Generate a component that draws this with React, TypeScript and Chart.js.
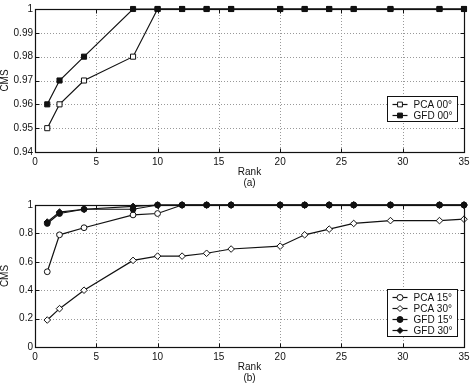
import React, { useEffect, useRef } from "react";
import { Chart, registerables } from "chart.js";

Chart.register(...registerables);

// ---------- data ----------
const ranks = [1, 2, 4, 8, 10, 12, 14, 16, 20, 22, 24, 26, 29, 33, 35];
const pca00 = [0.95, 0.96, 0.97, 0.98, 1, 1, 1, 1, 1, 1, 1, 1, 1, 1, 1];
const gfd00 = [0.96, 0.97, 0.98, 1, 1, 1, 1, 1, 1, 1, 1, 1, 1, 1, 1];
const pca15 = [0.53, 0.79, 0.84, 0.93, 0.94, 1, 1, 1, 1, 1, 1, 1, 1, 1, 1];
const pca30 = [0.19, 0.27, 0.4, 0.61, 0.64, 0.64, 0.66, 0.69, 0.71, 0.79, 0.83, 0.87, 0.89, 0.89, 0.9];
const gfd15 = [0.87, 0.94, 0.97, 0.97, 1, 1, 1, 1, 1, 1, 1, 1, 1, 1, 1];
const gfd30 = [0.88, 0.95, 0.97, 0.99, 1, 1, 1, 1, 1, 1, 1, 1, 1, 1, 1];
const xTickValues = [0, 5, 10, 15, 20, 25, 30, 35];
const yTicksA = [0.94, 0.95, 0.96, 0.97, 0.98, 0.99, 1];
const yTicksB = [0, 0.2, 0.4, 0.6, 0.8, 1];
const labelsA = ["PCA 00°", "GFD 00°"];
const labelsB = ["PCA 15°", "PCA 30°", "GFD 15°", "GFD 30°"];

const FONT = "'Liberation Sans', Arial, Helvetica, sans-serif";
const INK = "#111";

type Marker = "rect" | "circle" | "rectRot";

function drawMarker(ctx: CanvasRenderingContext2D, m: Marker, x: number, y: number, r: number, fill: string) {
  ctx.save();
  ctx.beginPath();
  if (m === "rect") {
    const s = r * Math.SQRT1_2 + 0.3;
    ctx.rect(x - s, y - s, 2 * s, 2 * s);
  } else if (m === "circle") {
    ctx.arc(x, y, r, 0, Math.PI * 2);
  } else {
    ctx.moveTo(x - r, y);
    ctx.lineTo(x, y - r);
    ctx.lineTo(x + r, y);
    ctx.lineTo(x, y + r);
    ctx.closePath();
  }
  ctx.fillStyle = fill;
  ctx.fill();
  ctx.lineWidth = 1;
  ctx.strokeStyle = INK;
  ctx.setLineDash([]);
  ctx.stroke();
  ctx.restore();
}

const framePlugin = {
  id: "matlabFrame",
  beforeDatasetsDraw(chart: any) {
    const { ctx, chartArea, scales } = chart;
    const { left, right, top, bottom } = chartArea;
    ctx.save();
    ctx.strokeStyle = "#999";
    ctx.lineWidth = 1;
    ctx.setLineDash([1, 2]);
    scales.x.ticks.forEach((t: any) => {
      const px = Math.round(scales.x.getPixelForValue(t.value)) + 0.5;
      if (px <= left + 1 || px >= right - 1) return;
      ctx.beginPath();
      ctx.moveTo(px, top);
      ctx.lineTo(px, bottom);
      ctx.stroke();
    });
    scales.y.ticks.forEach((t: any) => {
      const py = Math.round(scales.y.getPixelForValue(t.value)) + 0.5;
      if (py <= top + 1 || py >= bottom - 1) return;
      ctx.beginPath();
      ctx.moveTo(left, py);
      ctx.lineTo(right, py);
      ctx.stroke();
    });
    ctx.restore();
  },
  afterDatasetsDraw(chart: any, _args: any, opts: any) {
    const { ctx, chartArea, scales } = chart;
    const { left, right, top, bottom } = chartArea;
    ctx.save();
    ctx.setLineDash([]);
    ctx.strokeStyle = INK;
    ctx.lineWidth = 1.2;
    const L = Math.round(left) + 0.5, R = Math.round(right) + 0.5;
    const T = Math.round(top) + 0.5, B = Math.round(bottom) + 0.5;
    ctx.strokeRect(L, T, R - L, B - T);
    ctx.lineWidth = 1;
    const tl = 4;
    ctx.beginPath();
    scales.x.ticks.forEach((t: any) => {
      const px = Math.round(scales.x.getPixelForValue(t.value)) + 0.5;
      ctx.moveTo(px, B);
      ctx.lineTo(px, B - tl);
      ctx.moveTo(px, T);
      ctx.lineTo(px, T + tl);
    });
    scales.y.ticks.forEach((t: any) => {
      const py = Math.round(scales.y.getPixelForValue(t.value)) + 0.5;
      ctx.moveTo(L, py);
      ctx.lineTo(L + tl, py);
      ctx.moveTo(R, py);
      ctx.lineTo(R - tl, py);
    });
    ctx.stroke();

    // legend box
    const items = opts.items as { label: string; marker: Marker; fill: string }[];
    const w = 70;
    const h = 7.5 + (items.length - 1) * 11 + 6.5;
    const bx = Math.round(right - 7 - w) + 0.5;
    const by = Math.round(bottom - opts.bottomOffset - h) + 0.5;
    ctx.fillStyle = "#fff";
    ctx.fillRect(bx, by, w, h);
    ctx.strokeRect(bx, by, w, h);
    ctx.font = `10px ${FONT}`;
    ctx.textBaseline = "middle";
    ctx.textAlign = "left";
    items.forEach((it, i) => {
      const cy = Math.round(by + 7.5 + i * 11) + 0.5;
      ctx.beginPath();
      ctx.moveTo(bx + 5, cy);
      ctx.lineTo(bx + 20, cy);
      ctx.strokeStyle = INK;
      ctx.lineWidth = 1.2;
      ctx.stroke();
      drawMarker(ctx, it.marker, bx + 12.5, cy, 3, it.fill);
      ctx.fillStyle = INK;
      ctx.fillText(it.label, bx + 26, cy + 0.5);
    });
    ctx.restore();
  },
};

function fmt(v: number) {
  return String(Number(v.toFixed(2)));
}

type PanelProps = {
  series: { values: number[]; marker: Marker; fill: string; label: string; order: number }[];
  yMin: number;
  yMax: number;
  yTicks: number[];
  caption: string;
  padTop: number;
  xAxisHeight: number;
  titlePadBottom: number;
  legendOffset: number;
  legendOrder: string[];
};

function Panel(p: PanelProps) {
  const ref = useRef<HTMLCanvasElement | null>(null);
  useEffect(() => {
    if (!ref.current) return;
    const datasets = p.series.map((s) => ({
      label: s.label,
      data: ranks.map((r, i) => ({ x: r, y: s.values[i] })),
      borderColor: INK,
      borderWidth: 1.2,
      backgroundColor: s.fill,
      pointBackgroundColor: s.fill,
      pointBorderColor: INK,
      pointBorderWidth: 1,
      pointStyle: s.marker,
      pointRadius: s.marker === "rect" ? 3.6 : s.marker === "circle" ? 2.9 : 3.3,
      tension: 0,
      clip: false as any,
      order: s.order,
    }));
    const legendItems = p.legendOrder.map((lab) => {
      const s = p.series.find((q) => q.label === lab)!;
      return { label: s.label, marker: s.marker, fill: s.fill };
    });
    const chart = new Chart(ref.current, {
      type: "line",
      data: { datasets },
      plugins: [framePlugin],
      options: {
        animation: false,
        responsive: false,
        layout: { padding: { top: p.padTop, right: 10, left: 0, bottom: 0 } },
        plugins: {
          legend: { display: false },
          tooltip: { enabled: false },
          matlabFrame: { items: legendItems, bottomOffset: p.legendOffset },
        } as any,
        scales: {
          x: {
            type: "linear",
            min: 0,
            max: 35,
            grid: { display: false, drawTicks: false },
            border: { display: false },
            afterBuildTicks: (s: any) => {
              s.ticks = xTickValues.map((v) => ({ value: v }));
            },
            afterFit: (s: any) => {
              s.height = p.xAxisHeight;
            },
            ticks: {
              color: INK,
              font: { size: 10, family: FONT },
              padding: 4,
              maxRotation: 0,
              autoSkip: false,
              callback: (v: any) => fmt(Number(v)),
            },
            title: {
              display: true,
              text: ["Rank", p.caption],
              color: INK,
              font: { size: 10, family: FONT, lineHeight: 1.1 },
              padding: { top: 0, bottom: p.titlePadBottom },
            },
          },
          y: {
            type: "linear",
            min: p.yMin,
            max: p.yMax,
            grid: { display: false, drawTicks: false },
            border: { display: false },
            afterBuildTicks: (s: any) => {
              s.ticks = p.yTicks.map((v) => ({ value: v }));
            },
            afterFit: (s: any) => {
              s.width = 35;
            },
            ticks: {
              color: INK,
              font: { size: 10, family: FONT },
              padding: 2,
              autoSkip: false,
              callback: (v: any) => fmt(Number(v)),
            },
            title: {
              display: true,
              text: "CMS",
              color: INK,
              font: { size: 10, family: FONT, lineHeight: 1.1 },
              padding: { top: 0, bottom: 0 },
            },
          },
        },
      } as any,
    });
    return () => chart.destroy();
  }, []);
  return <canvas ref={ref} width={474} height={192} style={{ display: "block", width: 474, height: 192 }} />;
}

export default function App() {
  return (
    <div style={{ position: "fixed", left: 0, top: 0, width: 474, height: 384, background: "#fff" }}>
      <Panel
        series={[
          { label: labelsA[0], values: pca00, marker: "rect", fill: "#fff", order: 2 },
          { label: labelsA[1], values: gfd00, marker: "rect", fill: INK, order: 1 },
        ]}
        yMin={0.94}
        yMax={1}
        yTicks={yTicksA}
        caption="(a)"
        padTop={9}
        xAxisHeight={40}
        titlePadBottom={3}
        legendOffset={31}
        legendOrder={labelsA}
      />
      <Panel
        series={[
          { label: labelsB[0], values: pca15, marker: "circle", fill: "#fff", order: 4 },
          { label: labelsB[1], values: pca30, marker: "rectRot", fill: "#fff", order: 3 },
          { label: labelsB[2], values: gfd15, marker: "circle", fill: INK, order: 2 },
          { label: labelsB[3], values: gfd30, marker: "rectRot", fill: INK, order: 1 },
        ]}
        yMin={0}
        yMax={1}
        yTicks={yTicksB}
        caption="(b)"
        padTop={13}
        xAxisHeight={37}
        titlePadBottom={0}
        legendOffset={11}
        legendOrder={labelsB}
      />
    </div>
  );
}
